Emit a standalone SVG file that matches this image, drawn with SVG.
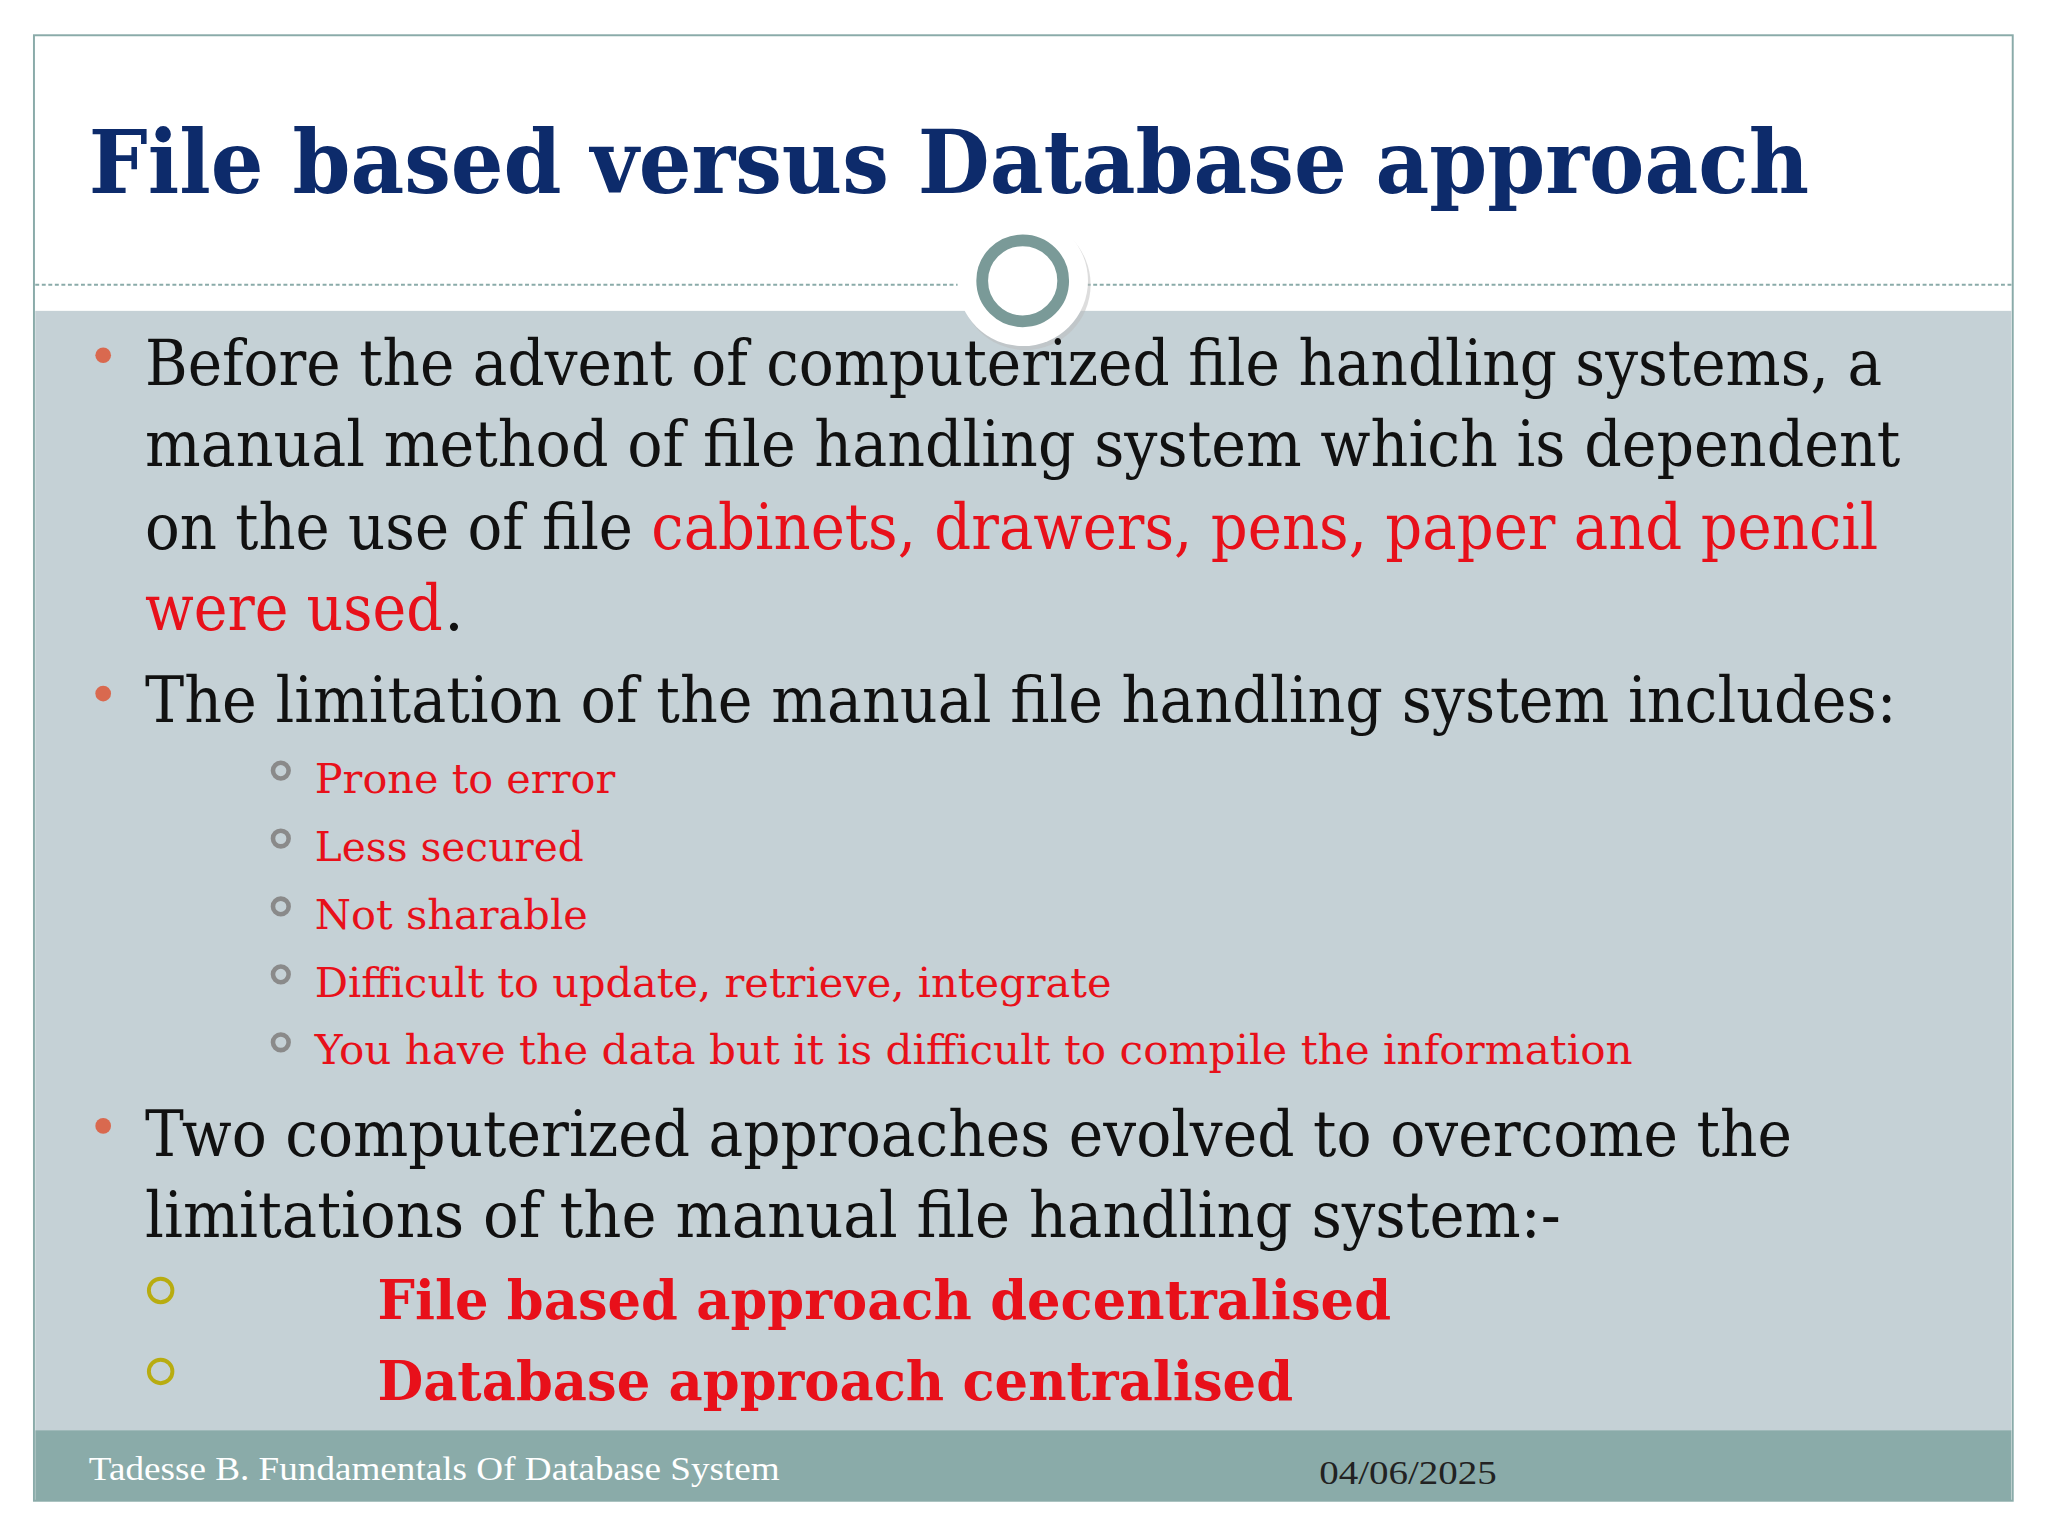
<svg xmlns="http://www.w3.org/2000/svg" width="2048" height="1536" viewBox="0 0 2048 1536">
<style>
.b{font-family:"DejaVu Serif","Liberation Serif",serif;font-size:48px;fill:#111}
.r{fill:#E8101A}
.s{font-family:"DejaVu Serif","Liberation Serif",serif;font-size:32px;fill:#E8101A}
.bb{font-family:"DejaVu Serif","Liberation Serif",serif;font-size:42px;font-weight:bold;fill:#E8101A}
.dot{fill:#D9694F}
.ring{fill:none;stroke:#8A8A8A;stroke-width:3.5}
.yr{fill:none;stroke:#B8AC10;stroke-width:3}
</style>
<rect width="2048" height="1536" fill="#fff"/>
<g transform="scale(1.30612)">
<g id="slide">
<rect x="26" y="27" width="1515" height="1122" fill="#fff" stroke="#8AABA9" stroke-width="1.5"/>
<rect x="27" y="238" width="1513" height="857" fill="#C5D1D6"/>
<rect x="27" y="1095" width="1513" height="54" fill="#8AABA9"/>
<line x1="27" y1="218" x2="1540" y2="218" stroke="#8AABA9" stroke-width="1.5" stroke-dasharray="3,2"/>
<circle cx="785" cy="218" r="50" fill="#bbb" opacity="0.5"/>
<circle cx="783" cy="215" r="50" fill="#fff"/>
<circle cx="783" cy="215" r="31" fill="#fff" stroke="#7A9A98" stroke-width="9"/>
</g>
<g id="title"><text x="68" y="148" font-family="DejaVu Serif,serif" font-weight="bold" font-size="68" fill="#0D2B6B" textLength="1317" lengthAdjust="spacingAndGlyphs">File based versus Database approach</text></g>
<g id="body">
<circle class="dot" cx="79" cy="272" r="6"/>
<circle class="dot" cx="79" cy="531" r="6"/>
<circle class="dot" cx="79" cy="862" r="6"/>
<text class="b" x="111" y="295" textLength="1330" lengthAdjust="spacingAndGlyphs">Before the advent of computerized file handling systems, a</text>
<text class="b" x="111" y="357" textLength="1344" lengthAdjust="spacingAndGlyphs">manual method of file handling system which is dependent</text>
<text class="b" x="111" y="420" textLength="1327" lengthAdjust="spacingAndGlyphs">on the use of file <tspan class="r">cabinets, drawers, pens, paper and pencil</tspan></text>
<text class="b r" x="111" y="482" textLength="228" lengthAdjust="spacingAndGlyphs">were used</text>
<text class="b" x="340" y="482">.</text>
<text class="b" x="111" y="553" textLength="1341" lengthAdjust="spacingAndGlyphs">The limitation of the manual file handling system includes:</text>
<circle class="ring" cx="215" cy="590" r="6"/>
<circle class="ring" cx="215" cy="642" r="6"/>
<circle class="ring" cx="215" cy="694" r="6"/>
<circle class="ring" cx="215" cy="746" r="6"/>
<circle class="ring" cx="215" cy="798" r="6"/>
<text class="s" x="241" y="607" textLength="230" lengthAdjust="spacingAndGlyphs">Prone to error</text>
<text class="s" x="241" y="659" textLength="206" lengthAdjust="spacingAndGlyphs">Less secured</text>
<text class="s" x="241" y="711" textLength="209" lengthAdjust="spacingAndGlyphs">Not sharable</text>
<text class="s" x="241" y="763" textLength="610" lengthAdjust="spacingAndGlyphs">Difficult to update, retrieve, integrate</text>
<text class="s" x="241" y="815" textLength="1009" lengthAdjust="spacingAndGlyphs">You have the data but it is difficult to compile the information</text>
<text class="b" x="111" y="885" textLength="1261" lengthAdjust="spacingAndGlyphs">Two computerized approaches evolved to overcome the</text>
<text class="b" x="111" y="947" textLength="1084" lengthAdjust="spacingAndGlyphs">limitations of the manual file handling system:-</text>
<circle class="yr" cx="123" cy="988" r="9"/>
<circle class="yr" cx="123" cy="1050" r="9"/>
<text class="bb" x="289" y="1010" textLength="776" lengthAdjust="spacingAndGlyphs">File based approach decentralised</text>
<text class="bb" x="289" y="1072" textLength="701" lengthAdjust="spacingAndGlyphs">Database approach centralised</text>
</g>
<g id="footer">
<text x="68" y="1133" font-family="Liberation Serif,serif" font-size="26" fill="#fff" textLength="529" lengthAdjust="spacingAndGlyphs">Tadesse B. Fundamentals Of Database System</text>
<text x="1010" y="1136" font-family="Liberation Serif,serif" font-size="26" fill="#222" textLength="136" lengthAdjust="spacingAndGlyphs">04/06/2025</text>
</g>
</g>
</svg>
